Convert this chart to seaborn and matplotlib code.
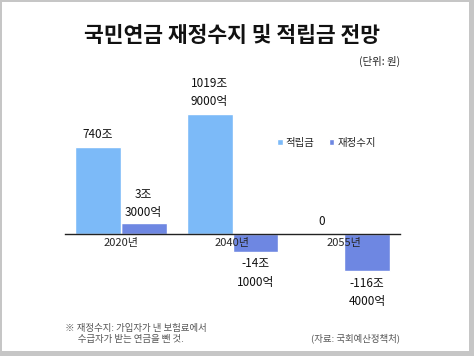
import pandas as pd
import numpy as np
import matplotlib.pyplot as plt
import seaborn as sns
from matplotlib.patches import Patch, Rectangle

# data
years = ['2020년', '2040년', '2055년']
fund = [740.0, 1019.9, 0.0]          # 적립금 (조 원)
balance = [3.3, -14.1, -116.4]       # 재정수지 (조 원)
fund_labels = ['740조', '1019조\n9000억', '0']
balance_labels = ['3조\n3000억', '-14조\n1000억', '-116조\n4000억']
series = ['적립금', '재정수지']
colors = ['#7cbaf8', '#6e87e2']

sns.set_style('white')
plt.rcParams['font.family'] = ['Noto Sans CJK KR', 'DejaVu Sans']

df = pd.DataFrame({
    'year': years * 2,
    'value': fund + balance,
    'series': [series[0]] * 3 + [series[1]] * 3,
})

fig = plt.figure(figsize=(4.74, 3.56), dpi=100, facecolor='#c6c6c6')
fig.patches.append(Rectangle((2 / 474, 5 / 356), 467 / 474, 349 / 356,
                             transform=fig.transFigure, facecolor='white',
                             edgecolor='none', zorder=-10))

rect = [65 / 474, 46 / 356, 335 / 474, 240 / 356]
ax2 = fig.add_axes(rect, label='balance')   # 재정수지, compressed scale
ax1 = fig.add_axes(rect, label='fund')      # 적립금, linear scale
ax2.set_zorder(1)
ax1.set_zorder(2)

sns.barplot(data=df[df.series == series[0]], x='year', y='value', hue='series',
            hue_order=series, palette=colors, width=0.82, dodge=True,
            saturation=1, legend=False, ax=ax1)
sns.barplot(data=df[df.series == series[1]], x='year', y='value', hue='series',
            hue_order=series, palette=colors, width=0.82, dodge=True,
            saturation=1, legend=False, ax=ax2)

# the infographic squeezes 재정수지 bars, so use a power scale for them
p = 0.35
fwd = lambda v: np.sign(v) * np.abs(v) ** p
inv = lambda v: np.sign(v) * np.abs(v) ** (1 / p)
ax2.set_yscale('function', functions=(fwd, inv))
k = 7.0
ax2.set_ylim(-inv(76 / k), inv(164 / k))
ax1.set_ylim(-76 * 8.5, 164 * 8.5)
ax1.set_xlim(-0.5, 2.5)
ax2.set_xlim(-0.5, 2.5)

ax1.patch.set_visible(False)
ax2.patch.set_visible(False)

for a in (ax1, ax2):
    for s in a.spines.values():
        s.set_visible(False)
    a.set_xlabel('')
    a.set_ylabel('')
    a.set_yticks([])
ax2.set_xticks([])

ax1.spines['bottom'].set_visible(True)
ax1.spines['bottom'].set_position(('data', 0))
ax1.spines['bottom'].set_linewidth(1.0)
ax1.spines['bottom'].set_color('#222222')
ax1.set_xticks(range(3))
ax1.set_xticklabels(years, fontsize=8)
ax1.tick_params(axis='x', which='major', length=0, pad=3)
ax1.set_xticks([-0.5, 0.5, 1.5, 2.5], minor=True)
ax1.tick_params(axis='x', which='minor', direction='inout', length=5,
                width=1, color='#222222')

# value labels
for bar, lab in zip(ax1.patches, fund_labels):
    cx = bar.get_x() + bar.get_width() / 2
    ax1.annotate(lab, (cx, bar.get_height()), xytext=(0, 4),
                 textcoords='offset points', ha='center', va='bottom',
                 fontsize=8.5, linespacing=1.55, color='#111111')
for bar, lab, v in zip(ax2.patches, balance_labels, balance):
    cx = bar.get_x() + bar.get_width() / 2
    if v >= 0:
        ax2.annotate(lab, (cx, v), xytext=(0, 3), textcoords='offset points',
                     ha='center', va='bottom', fontsize=8.5, linespacing=1.55,
                     color='#111111')
    else:
        ax2.annotate(lab, (cx, v), xytext=(0, -4), textcoords='offset points',
                     ha='center', va='top', fontsize=8.5, linespacing=1.55,
                     color='#111111')

handles = [Patch(facecolor=c, label=s) for c, s in zip(colors, series)]
fig.legend(handles=handles, loc='center left', ncol=2, frameon=False,
           bbox_to_anchor=(268 / 474, 1 - 143 / 356), fontsize=7.5,
           handlelength=0.5, handleheight=0.5, handletextpad=0.3,
           columnspacing=1.4)

fig.text(0.49, 1 - 36 / 356, '국민연금 재정수지 및 적립금 전망', ha='center',
         va='center', fontsize=15.5, fontweight='bold', color='#111111')
fig.text(400 / 474, 1 - 61 / 356, '(단위: 원)', ha='right', va='center',
         fontsize=7.5, color='#222222')
fig.text(65 / 474, 1 - 334 / 356, '※ 재정수지: 가입자가 낸 보험료에서\n      수급자가 받는 연금을 뺀 것.',
         ha='left', va='center', fontsize=6.8, color='#555555', linespacing=1.3)
fig.text(400 / 474, 1 - 338 / 356, '(자료: 국회예산정책처)', ha='right',
         va='center', fontsize=6.8, color='#555555')

fig.savefig('out.png', dpi=100, facecolor=fig.get_facecolor())
